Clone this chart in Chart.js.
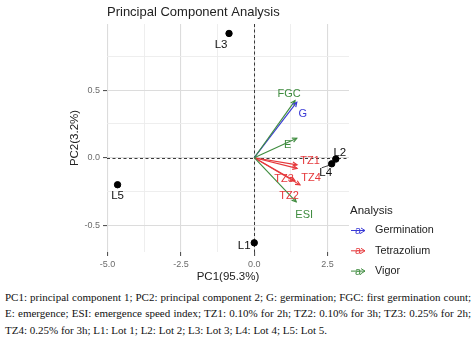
<!DOCTYPE html>
<html><head><meta charset="utf-8">
<script src="https://cdn.jsdelivr.net/npm/chart.js@4"></script>
<style>
html,body{margin:0;padding:0;background:#fff;}
#wrap{position:relative;width:474px;height:344px;overflow:hidden;background:#fff;}
#plot{position:absolute;left:0;top:0;width:474px;height:286px;}
#cap{position:absolute;left:5px;top:289px;width:466px;font-family:"Liberation Serif","Times New Roman",serif;font-size:11px;line-height:16.3px;color:#111;}
#cap div.j{text-align:justify;text-align-last:justify;white-space:nowrap;}
</style></head>
<body>
<div id="wrap">
  <div id="plot"><canvas id="cv" width="474" height="286"></canvas></div>
  <div id="cap">
    <div class="j">PC1: principal component 1; PC2: principal component 2; G: germination; FGC: first germination count;</div>
    <div class="j">E: emergence; ESI: emergence speed index; TZ1: 0.10% for 2h; TZ2: 0.10% for 3h; TZ3: 0.25% for 2h;</div>
    <div>TZ4: 0.25% for 3h; L1: Lot 1; L2: Lot 2; L3: Lot 3; L4: Lot 4; L5: Lot 5.</div>
  </div>
</div>
<script>
// ---------- data ----------
const lots = ['L1', 'L2', 'L3', 'L4', 'L5'];
const pc1Scores = [0.00, 2.78, -0.86, 2.64, -4.66];
const pc2Scores = [-0.63, -0.01, 0.92, -0.045, -0.20];

const variables = ['FGC', 'G', 'E', 'ESI', 'TZ1', 'TZ2', 'TZ3', 'TZ4'];
const variableGroups = ['Vigor', 'Germination', 'Vigor', 'Vigor', 'Tetrazolium', 'Tetrazolium', 'Tetrazolium', 'Tetrazolium'];
const pc1Loadings = [1.39, 1.45, 1.45, 1.43, 1.46, 1.46, 1.39, 1.56];
const pc2Loadings = [0.423, 0.411, 0.144, -0.327, -0.053, -0.079, -0.172, -0.201];

const analysisGroups = ['Germination', 'Tetrazolium', 'Vigor'];

const xMajorTicks = [-5.0, -2.5, 0.0, 2.5];
const xMinorTicks = [-3.75, -1.25, 1.25];
const yMajorTicks = [-0.5, 0.0, 0.5];
const yMinorTicks = [-0.25, 0.25, 0.75];

// ---------- styles ----------
const groupColors = { Germination: '#3a3ad6', Tetrazolium: '#e5383b', Vigor: '#3f8c3f' };
const SANS = '"Liberation Sans", Arial, sans-serif';
// pixel offsets of text labels from their anchor (repelled labels)
const lotLabelOffsets = { L1: [-10, 3], L2: [4, -6], L3: [-8, 11], L4: [-6, 9], L5: [0, 11] };
const varLabelOffsets = { FGC: [-6, -7], G: [6, 12], E: [-9, 7], ESI: [8, 13], TZ1: [13, -4], TZ2: [-8, 28], TZ3: [-11, -2], TZ4: [11, -7] };

const isMajor = (arr, v) => arr.some(m => Math.abs(m - v) < 1e-9);

const arrowDatasets = variables.map((v, i) => ({
  type: 'line',
  label: v,
  data: [{ x: 0, y: 0 }, { x: pc1Loadings[i], y: pc2Loadings[i] }],
  borderColor: groupColors[variableGroups[i]],
  borderWidth: 1.15,
  pointRadius: 0,
  fill: false,
  tension: 0
}));

const pointDataset = {
  type: 'scatter',
  label: 'Lots',
  data: lots.map((l, i) => ({ x: pc1Scores[i], y: pc2Scores[i] })),
  backgroundColor: '#000',
  borderColor: '#000',
  pointRadius: 3.2,
  pointHoverRadius: 3.2
};

const biplotPlugin = {
  id: 'biplot',
  beforeDatasetsDraw(chart) {
    const { ctx, chartArea: a, scales: { x, y } } = chart;
    ctx.save();
    ctx.strokeStyle = '#3a3a3a';
    ctx.lineWidth = 1;
    ctx.setLineDash([3, 2.5]);
    const x0 = Math.round(x.getPixelForValue(0)) + 0.5;
    const y0 = Math.round(y.getPixelForValue(0)) + 0.5;
    ctx.beginPath(); ctx.moveTo(x0, a.top); ctx.lineTo(x0, a.bottom); ctx.stroke();
    ctx.beginPath(); ctx.moveTo(a.left, y0); ctx.lineTo(a.right, y0); ctx.stroke();
    ctx.restore();
  },
  afterDatasetsDraw(chart) {
    const { ctx, chartArea: a } = chart;
    ctx.save();
    // arrowheads
    variables.forEach((v, i) => {
      const meta = chart.getDatasetMeta(i);
      const p0 = meta.data[0], p1 = meta.data[1];
      const ang = Math.atan2(p1.y - p0.y, p1.x - p0.x);
      const L = 5, w = Math.PI / 7;
      ctx.strokeStyle = groupColors[variableGroups[i]];
      ctx.lineWidth = 1.15;
      ctx.beginPath();
      ctx.moveTo(p1.x - L * Math.cos(ang - w), p1.y - L * Math.sin(ang - w));
      ctx.lineTo(p1.x, p1.y);
      ctx.lineTo(p1.x - L * Math.cos(ang + w), p1.y - L * Math.sin(ang + w));
      ctx.stroke();
    });
    // variable labels
    ctx.font = '11px ' + SANS;
    ctx.textAlign = 'center';
    ctx.textBaseline = 'middle';
    variables.forEach((v, i) => {
      const meta = chart.getDatasetMeta(i);
      const p1 = meta.data[1];
      const o = varLabelOffsets[v];
      ctx.fillStyle = groupColors[variableGroups[i]];
      ctx.fillText(v, p1.x + o[0], p1.y + o[1]);
    });
    // lot labels
    const pm = chart.getDatasetMeta(variables.length);
    ctx.fillStyle = '#111';
    ctx.font = '11.5px ' + SANS;
    lots.forEach((l, i) => {
      const p = pm.data[i];
      const o = lotLabelOffsets[l];
      ctx.fillText(l, p.x + o[0], p.y + o[1]);
      if (l === 'L4') {
        ctx.strokeStyle = '#111'; ctx.lineWidth = 0.8;
        ctx.beginPath(); ctx.moveTo(p.x + o[0] - 4, p.y + o[1] - 5); ctx.lineTo(p.x - 1, p.y + 1); ctx.stroke();
      }
    });
    // title
    ctx.fillStyle = '#222';
    ctx.textAlign = 'left';
    ctx.font = '13px ' + SANS;
    ctx.fillText('Principal Component Analysis', a.left, 12);
    // axis titles
    ctx.textAlign = 'center';
    ctx.font = '11.5px ' + SANS;
    ctx.fillText('PC1(95.3%)', (a.left + a.right) / 2, 277);
    ctx.save();
    ctx.translate(75, (a.top + a.bottom) / 2);
    ctx.rotate(-Math.PI / 2);
    ctx.fillText('PC2(3.2%)', 0, 0);
    ctx.restore();
    // legend
    ctx.textAlign = 'left';
    ctx.fillStyle = '#222';
    ctx.font = '11.5px ' + SANS;
    ctx.fillText('Analysis', 350, 211);
    analysisGroups.forEach((g, k) => {
      const cy = 230.5 + k * 20.3;
      const col = groupColors[g];
      ctx.strokeStyle = col; ctx.fillStyle = col; ctx.lineWidth = 1;
      ctx.beginPath(); ctx.moveTo(351, cy); ctx.lineTo(365, cy); ctx.stroke();
      ctx.beginPath(); ctx.moveTo(361, cy - 2.5); ctx.lineTo(365, cy); ctx.lineTo(361, cy + 2.5); ctx.stroke();
      ctx.textAlign = 'center';
      ctx.font = '11px ' + SANS;
      ctx.fillText('a', 358, cy + 0.5);
      ctx.textAlign = 'left';
      ctx.fillStyle = '#222';
      ctx.font = '10.8px ' + SANS;
      ctx.fillText(g, 375, cy);
    });
    ctx.restore();
  }
};

new Chart(document.getElementById('cv'), {
  data: { datasets: [...arrowDatasets, pointDataset] },
  options: {
    responsive: false,
    animation: false,
    events: [],
    layout: { padding: { top: 24, right: 125, left: 0, bottom: 0 } },
    plugins: { legend: { display: false }, title: { display: false }, tooltip: { enabled: false } },
    scales: {
      x: {
        type: 'linear',
        min: -5.02, max: 3.23,
        afterFit(s) { s.height = 34; },
        afterBuildTicks(s) { s.ticks = [...xMajorTicks, ...xMinorTicks].sort((a, b) => a - b).map(v => ({ value: v })); },
        border: { display: false },
        grid: {
          color: c => isMajor(xMajorTicks, c.tick.value) ? '#dcdcdc' : '#ececec',
          lineWidth: c => isMajor(xMajorTicks, c.tick.value) ? 1.1 : 0.9,
          tickColor: c => isMajor(xMajorTicks, c.tick.value) ? '#555' : 'rgba(0,0,0,0)',
          tickLength: 4
        },
        ticks: {
          autoSkip: false, maxRotation: 0, padding: 3,
          color: '#6b6b6b', font: { family: SANS, size: 9 },
          callback: v => isMajor(xMajorTicks, v) ? Number(v).toFixed(1) : ''
        }
      },
      y: {
        type: 'linear',
        min: -0.698, max: 0.99,
        afterFit(s) { s.width = 107; },
        afterBuildTicks(s) { s.ticks = [...yMajorTicks, ...yMinorTicks].sort((a, b) => a - b).map(v => ({ value: v })); },
        border: { display: false },
        grid: {
          color: c => isMajor(yMajorTicks, c.tick.value) ? '#dcdcdc' : '#ececec',
          lineWidth: c => isMajor(yMajorTicks, c.tick.value) ? 1.1 : 0.9,
          tickColor: c => isMajor(yMajorTicks, c.tick.value) ? '#555' : 'rgba(0,0,0,0)',
          tickLength: 4
        },
        ticks: {
          autoSkip: false, padding: 3,
          color: '#6b6b6b', font: { family: SANS, size: 9 },
          callback: v => isMajor(yMajorTicks, v) ? Number(v).toFixed(1) : ''
        }
      }
    }
  },
  plugins: [biplotPlugin]
});
</script>
</body></html>
